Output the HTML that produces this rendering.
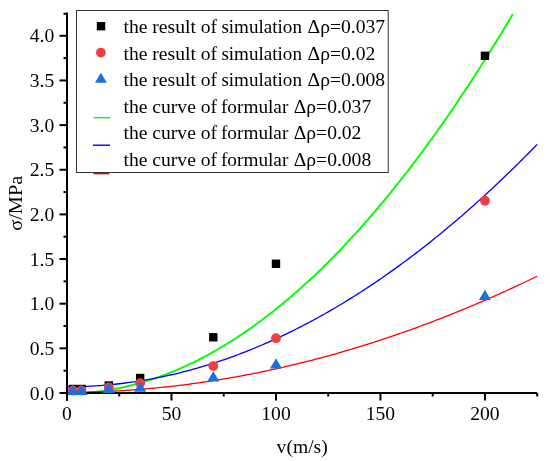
<!DOCTYPE html><html><head><meta charset="utf-8"><style>html,body{margin:0;padding:0;background:#fff;}svg{display:block;}</style></head><body>
<svg width="550" height="461" viewBox="0 0 550 461">
<rect width="550" height="461" fill="#fff"/>
<path d="M67.00,393.46 L69.09,393.45 L71.18,393.43 L73.27,393.38 L75.36,393.32 L77.45,393.24 L79.54,393.15 L81.63,393.03 L83.72,392.90 L85.81,392.75 L87.90,392.59 L89.99,392.41 L92.08,392.21 L94.17,391.99 L96.26,391.76 L98.35,391.51 L100.44,391.24 L102.53,390.96 L104.62,390.66 L106.71,390.34 L108.80,390.00 L110.89,389.65 L112.98,389.28 L115.07,388.90 L117.16,388.49 L119.25,388.07 L121.33,387.64 L123.42,387.19 L125.51,386.72 L127.60,386.23 L129.69,385.73 L131.78,385.21 L133.87,384.67 L135.96,384.11 L138.05,383.54 L140.14,382.96 L142.23,382.35 L144.32,381.73 L146.41,381.10 L148.50,380.44 L150.59,379.77 L152.68,379.08 L154.77,378.38 L156.86,377.66 L158.95,376.92 L161.04,376.16 L163.13,375.39 L165.22,374.61 L167.31,373.80 L169.40,372.98 L171.49,372.14 L173.58,371.29 L175.67,370.42 L177.76,369.53 L179.85,368.63 L181.94,367.70 L184.03,366.77 L186.12,365.81 L188.21,364.84 L190.30,363.85 L192.39,362.85 L194.48,361.83 L196.57,360.79 L198.66,359.74 L200.75,358.67 L202.84,357.58 L204.93,356.48 L207.02,355.36 L209.11,354.22 L211.20,353.07 L213.29,351.90 L215.38,350.71 L217.47,349.51 L219.56,348.29 L221.65,347.05 L223.73,345.80 L225.82,344.53 L227.91,343.24 L230.00,341.94 L232.09,340.62 L234.18,339.29 L236.27,337.93 L238.36,336.57 L240.45,335.18 L242.54,333.78 L244.63,332.36 L246.72,330.93 L248.81,329.48 L250.90,328.01 L252.99,326.52 L255.08,325.02 L257.17,323.51 L259.26,321.97 L261.35,320.42 L263.44,318.86 L265.53,317.27 L267.62,315.67 L269.71,314.06 L271.80,312.43 L273.89,310.78 L275.98,309.11 L278.07,307.43 L280.16,305.73 L282.25,304.02 L284.34,302.28 L286.43,300.54 L288.52,298.77 L290.61,296.99 L292.70,295.19 L294.79,293.38 L296.88,291.55 L298.97,289.70 L301.06,287.84 L303.15,285.96 L305.24,284.07 L307.33,282.15 L309.42,280.22 L311.51,278.28 L313.60,276.32 L315.69,274.34 L317.78,272.34 L319.87,270.33 L321.96,268.31 L324.05,266.26 L326.14,264.20 L328.22,262.13 L330.31,260.03 L332.40,257.92 L334.49,255.80 L336.58,253.66 L338.67,251.50 L340.76,249.32 L342.85,247.13 L344.94,244.92 L347.03,242.70 L349.12,240.46 L351.21,238.20 L353.30,235.93 L355.39,233.64 L357.48,231.33 L359.57,229.01 L361.66,226.67 L363.75,224.31 L365.84,221.94 L367.93,219.55 L370.02,217.15 L372.11,214.73 L374.20,212.29 L376.29,209.84 L378.38,207.37 L380.47,204.88 L382.56,202.38 L384.65,199.86 L386.74,197.32 L388.83,194.77 L390.92,192.20 L393.01,189.62 L395.10,187.02 L397.19,184.40 L399.28,181.77 L401.37,179.12 L403.46,176.45 L405.55,173.77 L407.64,171.07 L409.73,168.36 L411.82,165.62 L413.91,162.88 L416.00,160.11 L418.09,157.33 L420.18,154.53 L422.27,151.72 L424.36,148.89 L426.45,146.04 L428.54,143.18 L430.63,140.30 L432.71,137.41 L434.80,134.50 L436.89,131.57 L438.98,128.62 L441.07,125.66 L443.16,122.69 L445.25,119.69 L447.34,116.69 L449.43,113.66 L451.52,110.62 L453.61,107.56 L455.70,104.48 L457.79,101.39 L459.88,98.29 L461.97,95.16 L464.06,92.02 L466.15,88.87 L468.24,85.69 L470.33,82.51 L472.42,79.30 L474.51,76.08 L476.60,72.84 L478.69,69.59 L480.78,66.32 L482.87,63.03 L484.96,59.73 L487.05,56.41 L489.14,53.07 L491.23,49.72 L493.32,46.35 L495.41,42.97 L497.50,39.57 L499.59,36.15 L501.68,32.72 L503.77,29.27 L505.86,25.80 L507.95,22.32 L510.04,18.82 L512.13,15.31 L512.78,14.20" fill="none" stroke="#00ff00" stroke-width="1.90"/>
<path d="M67.00,386.78 L69.09,386.77 L71.18,386.76 L73.27,386.73 L75.36,386.70 L77.45,386.65 L79.54,386.60 L81.63,386.54 L83.72,386.47 L85.81,386.38 L87.90,386.29 L89.99,386.19 L92.08,386.08 L94.17,385.96 L96.26,385.83 L98.35,385.69 L100.44,385.54 L102.53,385.38 L104.62,385.21 L106.71,385.03 L108.80,384.85 L110.89,384.65 L112.98,384.44 L115.07,384.23 L117.16,384.00 L119.25,383.76 L121.33,383.52 L123.42,383.26 L125.51,383.00 L127.60,382.73 L129.69,382.44 L131.78,382.15 L133.87,381.85 L135.96,381.53 L138.05,381.21 L140.14,380.88 L142.23,380.54 L144.32,380.19 L146.41,379.83 L148.50,379.46 L150.59,379.08 L152.68,378.69 L154.77,378.29 L156.86,377.88 L158.95,377.46 L161.04,377.04 L163.13,376.60 L165.22,376.15 L167.31,375.70 L169.40,375.23 L171.49,374.75 L173.58,374.27 L175.67,373.77 L177.76,373.27 L179.85,372.76 L181.94,372.23 L184.03,371.70 L186.12,371.16 L188.21,370.61 L190.30,370.04 L192.39,369.47 L194.48,368.89 L196.57,368.30 L198.66,367.70 L200.75,367.09 L202.84,366.47 L204.93,365.85 L207.02,365.21 L209.11,364.56 L211.20,363.90 L213.29,363.24 L215.38,362.56 L217.47,361.87 L219.56,361.18 L221.65,360.47 L223.73,359.76 L225.82,359.03 L227.91,358.30 L230.00,357.56 L232.09,356.80 L234.18,356.04 L236.27,355.27 L238.36,354.49 L240.45,353.70 L242.54,352.90 L244.63,352.09 L246.72,351.27 L248.81,350.44 L250.90,349.60 L252.99,348.75 L255.08,347.89 L257.17,347.02 L259.26,346.15 L261.35,345.26 L263.44,344.36 L265.53,343.46 L267.62,342.54 L269.71,341.62 L271.80,340.68 L273.89,339.74 L275.98,338.78 L278.07,337.82 L280.16,336.85 L282.25,335.87 L284.34,334.87 L286.43,333.87 L288.52,332.86 L290.61,331.84 L292.70,330.81 L294.79,329.77 L296.88,328.72 L298.97,327.66 L301.06,326.60 L303.15,325.52 L305.24,324.43 L307.33,323.33 L309.42,322.23 L311.51,321.11 L313.60,319.99 L315.69,318.85 L317.78,317.71 L319.87,316.55 L321.96,315.39 L324.05,314.21 L326.14,313.03 L328.22,311.84 L330.31,310.64 L332.40,309.42 L334.49,308.20 L336.58,306.97 L338.67,305.73 L340.76,304.48 L342.85,303.22 L344.94,301.95 L347.03,300.68 L349.12,299.39 L351.21,298.09 L353.30,296.78 L355.39,295.47 L357.48,294.14 L359.57,292.80 L361.66,291.46 L363.75,290.10 L365.84,288.74 L367.93,287.37 L370.02,285.98 L372.11,284.59 L374.20,283.19 L376.29,281.78 L378.38,280.35 L380.47,278.92 L382.56,277.48 L384.65,276.03 L386.74,274.57 L388.83,273.10 L390.92,271.62 L393.01,270.14 L395.10,268.64 L397.19,267.13 L399.28,265.61 L401.37,264.09 L403.46,262.55 L405.55,261.00 L407.64,259.45 L409.73,257.88 L411.82,256.31 L413.91,254.73 L416.00,253.13 L418.09,251.53 L420.18,249.92 L422.27,248.29 L424.36,246.66 L426.45,245.02 L428.54,243.37 L430.63,241.71 L432.71,240.04 L434.80,238.36 L436.89,236.67 L438.98,234.97 L441.07,233.27 L443.16,231.55 L445.25,229.82 L447.34,228.09 L449.43,226.34 L451.52,224.58 L453.61,222.82 L455.70,221.04 L457.79,219.26 L459.88,217.47 L461.97,215.66 L464.06,213.85 L466.15,212.03 L468.24,210.20 L470.33,208.35 L472.42,206.50 L474.51,204.64 L476.60,202.77 L478.69,200.89 L480.78,199.00 L482.87,197.10 L484.96,195.20 L487.05,193.28 L489.14,191.35 L491.23,189.41 L493.32,187.47 L495.41,185.51 L497.50,183.55 L499.59,181.57 L501.68,179.59 L503.77,177.59 L505.86,175.59 L507.95,173.58 L510.04,171.55 L512.13,169.52 L514.22,167.48 L516.31,165.43 L518.40,163.37 L520.49,161.30 L522.58,159.22 L524.67,157.13 L526.76,155.03 L528.85,152.92 L530.94,150.80 L533.03,148.68 L535.12,146.54 L537.20,144.39" fill="none" stroke="#0000ff" stroke-width="1.30"/>
<path d="M67.00,392.31 L69.09,392.31 L71.18,392.30 L73.27,392.29 L75.36,392.27 L77.45,392.25 L79.54,392.22 L81.63,392.19 L83.72,392.15 L85.81,392.11 L87.90,392.06 L89.99,392.01 L92.08,391.95 L94.17,391.89 L96.26,391.83 L98.35,391.75 L100.44,391.68 L102.53,391.60 L104.62,391.51 L106.71,391.42 L108.80,391.33 L110.89,391.23 L112.98,391.12 L115.07,391.01 L117.16,390.90 L119.25,390.78 L121.33,390.66 L123.42,390.53 L125.51,390.40 L127.60,390.26 L129.69,390.12 L131.78,389.97 L133.87,389.82 L135.96,389.67 L138.05,389.51 L140.14,389.34 L142.23,389.17 L144.32,389.00 L146.41,388.82 L148.50,388.64 L150.59,388.45 L152.68,388.26 L154.77,388.06 L156.86,387.86 L158.95,387.65 L161.04,387.44 L163.13,387.22 L165.22,387.00 L167.31,386.78 L169.40,386.55 L171.49,386.31 L173.58,386.08 L175.67,385.83 L177.76,385.58 L179.85,385.33 L181.94,385.08 L184.03,384.81 L186.12,384.55 L188.21,384.28 L190.30,384.00 L192.39,383.72 L194.48,383.44 L196.57,383.15 L198.66,382.86 L200.75,382.56 L202.84,382.25 L204.93,381.95 L207.02,381.64 L209.11,381.32 L211.20,381.00 L213.29,380.67 L215.38,380.34 L217.47,380.01 L219.56,379.67 L221.65,379.33 L223.73,378.98 L225.82,378.63 L227.91,378.27 L230.00,377.91 L232.09,377.54 L234.18,377.17 L236.27,376.80 L238.36,376.42 L240.45,376.03 L242.54,375.64 L244.63,375.25 L246.72,374.85 L248.81,374.45 L250.90,374.04 L252.99,373.63 L255.08,373.22 L257.17,372.80 L259.26,372.37 L261.35,371.94 L263.44,371.51 L265.53,371.07 L267.62,370.63 L269.71,370.18 L271.80,369.73 L273.89,369.27 L275.98,368.81 L278.07,368.35 L280.16,367.88 L282.25,367.40 L284.34,366.93 L286.43,366.44 L288.52,365.95 L290.61,365.46 L292.70,364.97 L294.79,364.47 L296.88,363.96 L298.97,363.45 L301.06,362.94 L303.15,362.42 L305.24,361.89 L307.33,361.37 L309.42,360.83 L311.51,360.30 L313.60,359.76 L315.69,359.21 L317.78,358.66 L319.87,358.10 L321.96,357.55 L324.05,356.98 L326.14,356.41 L328.22,355.84 L330.31,355.26 L332.40,354.68 L334.49,354.10 L336.58,353.51 L338.67,352.91 L340.76,352.31 L342.85,351.71 L344.94,351.10 L347.03,350.49 L349.12,349.87 L351.21,349.25 L353.30,348.62 L355.39,347.99 L357.48,347.36 L359.57,346.72 L361.66,346.08 L363.75,345.43 L365.84,344.77 L367.93,344.12 L370.02,343.46 L372.11,342.79 L374.20,342.12 L376.29,341.45 L378.38,340.77 L380.47,340.08 L382.56,339.39 L384.65,338.70 L386.74,338.01 L388.83,337.30 L390.92,336.60 L393.01,335.89 L395.10,335.17 L397.19,334.45 L399.28,333.73 L401.37,333.00 L403.46,332.27 L405.55,331.53 L407.64,330.79 L409.73,330.05 L411.82,329.30 L413.91,328.54 L416.00,327.78 L418.09,327.02 L420.18,326.25 L422.27,325.48 L424.36,324.70 L426.45,323.92 L428.54,323.14 L430.63,322.35 L432.71,321.55 L434.80,320.75 L436.89,319.95 L438.98,319.14 L441.07,318.33 L443.16,317.52 L445.25,316.69 L447.34,315.87 L449.43,315.04 L451.52,314.21 L453.61,313.37 L455.70,312.52 L457.79,311.68 L459.88,310.83 L461.97,309.97 L464.06,309.11 L466.15,308.25 L468.24,307.38 L470.33,306.50 L472.42,305.62 L474.51,304.74 L476.60,303.86 L478.69,302.96 L480.78,302.07 L482.87,301.17 L484.96,300.26 L487.05,299.36 L489.14,298.44 L491.23,297.52 L493.32,296.60 L495.41,295.68 L497.50,294.75 L499.59,293.81 L501.68,292.87 L503.77,291.93 L505.86,290.98 L507.95,290.03 L510.04,289.07 L512.13,288.11 L514.22,287.14 L516.31,286.17 L518.40,285.20 L520.49,284.22 L522.58,283.24 L524.67,282.25 L526.76,281.26 L528.85,280.26 L530.94,279.26 L533.03,278.25 L535.12,277.24 L537.20,276.23" fill="none" stroke="#ff0000" stroke-width="1.30"/>
<g stroke="#000" stroke-width="2" fill="none">
<line x1="67" y1="12.8" x2="67" y2="400.5"/>
<line x1="66" y1="393" x2="537.2" y2="393"/>
<line x1="59.5" y1="393.00" x2="67" y2="393.00"/>
<line x1="63.5" y1="370.68" x2="67" y2="370.68"/>
<line x1="59.5" y1="348.35" x2="67" y2="348.35"/>
<line x1="63.5" y1="326.02" x2="67" y2="326.02"/>
<line x1="59.5" y1="303.70" x2="67" y2="303.70"/>
<line x1="63.5" y1="281.38" x2="67" y2="281.38"/>
<line x1="59.5" y1="259.05" x2="67" y2="259.05"/>
<line x1="63.5" y1="236.72" x2="67" y2="236.72"/>
<line x1="59.5" y1="214.40" x2="67" y2="214.40"/>
<line x1="63.5" y1="192.08" x2="67" y2="192.08"/>
<line x1="59.5" y1="169.75" x2="67" y2="169.75"/>
<line x1="63.5" y1="147.43" x2="67" y2="147.43"/>
<line x1="59.5" y1="125.10" x2="67" y2="125.10"/>
<line x1="63.5" y1="102.78" x2="67" y2="102.78"/>
<line x1="59.5" y1="80.45" x2="67" y2="80.45"/>
<line x1="63.5" y1="58.12" x2="67" y2="58.12"/>
<line x1="59.5" y1="35.80" x2="67" y2="35.80"/>
<line x1="63.5" y1="13.80" x2="67" y2="13.80"/>
<line x1="67.00" y1="393" x2="67.00" y2="400.5"/>
<line x1="119.25" y1="393" x2="119.25" y2="396.5"/>
<line x1="171.49" y1="393" x2="171.49" y2="400.5"/>
<line x1="223.73" y1="393" x2="223.73" y2="396.5"/>
<line x1="275.98" y1="393" x2="275.98" y2="400.5"/>
<line x1="328.22" y1="393" x2="328.22" y2="396.5"/>
<line x1="380.47" y1="393" x2="380.47" y2="400.5"/>
<line x1="432.71" y1="393" x2="432.71" y2="396.5"/>
<line x1="484.96" y1="393" x2="484.96" y2="400.5"/>
<line x1="537.20" y1="393" x2="537.20" y2="396.5"/>
</g>
<rect x="68.76" y="384.78" width="8.4" height="8.4" fill="#000"/>
<rect x="77.32" y="384.78" width="8.4" height="8.4" fill="#000"/>
<rect x="104.60" y="381.30" width="8.4" height="8.4" fill="#000"/>
<rect x="135.94" y="373.80" width="8.4" height="8.4" fill="#000"/>
<rect x="209.09" y="333.08" width="8.4" height="8.4" fill="#000"/>
<rect x="271.78" y="259.58" width="8.4" height="8.4" fill="#000"/>
<rect x="480.76" y="51.60" width="8.4" height="8.4" fill="#000"/>
<circle cx="72.96" cy="390.50" r="4.9" fill="#ee4040"/>
<circle cx="81.52" cy="390.50" r="4.9" fill="#ee4040"/>
<circle cx="108.80" cy="387.30" r="4.9" fill="#ee4040"/>
<circle cx="140.14" cy="383.18" r="4.9" fill="#ee4040"/>
<circle cx="213.29" cy="366.03" r="4.9" fill="#ee4040"/>
<circle cx="275.98" cy="338.17" r="4.9" fill="#ee4040"/>
<circle cx="484.96" cy="200.74" r="4.9" fill="#ee4040"/>
<path d="M72.96,384.70 L78.96,394.90 L66.96,394.90 Z" fill="#1c6fe0"/>
<path d="M81.52,384.70 L87.52,394.90 L75.52,394.90 Z" fill="#1c6fe0"/>
<path d="M108.80,382.85 L114.80,393.05 L102.80,393.05 Z" fill="#1c6fe0"/>
<path d="M140.14,381.47 L146.14,391.67 L134.14,391.67 Z" fill="#1c6fe0"/>
<path d="M213.29,371.29 L219.29,381.49 L207.29,381.49 Z" fill="#1c6fe0"/>
<path d="M275.98,358.34 L281.98,368.54 L269.98,368.54 Z" fill="#1c6fe0"/>
<path d="M484.96,289.80 L490.96,300.00 L478.96,300.00 Z" fill="#1c6fe0"/>
<line x1="67" y1="12.8" x2="67" y2="400.5" stroke="#000" stroke-width="2"/>
<g font-family="Liberation Serif, Times New Roman, serif" font-size="19.6" fill="#000">
<text x="54.2" y="399.60" text-anchor="end">0.0</text>
<text x="54.2" y="354.95" text-anchor="end">0.5</text>
<text x="54.2" y="310.30" text-anchor="end">1.0</text>
<text x="54.2" y="265.65" text-anchor="end">1.5</text>
<text x="54.2" y="221.00" text-anchor="end">2.0</text>
<text x="54.2" y="176.35" text-anchor="end">2.5</text>
<text x="54.2" y="131.70" text-anchor="end">3.0</text>
<text x="54.2" y="87.05" text-anchor="end">3.5</text>
<text x="54.2" y="42.40" text-anchor="end">4.0</text>
<text x="67.00" y="420.3" text-anchor="middle">0</text>
<text x="171.49" y="420.3" text-anchor="middle">50</text>
<text x="275.98" y="420.3" text-anchor="middle">100</text>
<text x="380.47" y="420.3" text-anchor="middle">150</text>
<text x="484.96" y="420.3" text-anchor="middle">200</text>
<text x="302.2" y="452.8" text-anchor="middle">v(m/s)</text>
<text transform="translate(22,203.3) rotate(-90) scale(1.038,1)" text-anchor="middle">σ/MPa</text>
</g>
<rect x="76.5" y="10.5" width="311.7" height="162" fill="#fff" stroke="#333" stroke-width="1"/>
<g font-family="Liberation Serif, Times New Roman, serif" font-size="19.6" fill="#000">
<text x="123.5" y="33.20">the result of</text>
<text x="0" y="0" transform="translate(221.40,33.20) scale(0.974,1)">simulation</text>
<text x="0" y="0" transform="translate(307.60,33.20) scale(1.000,1)">Δρ=0.037</text>
<text x="123.5" y="59.76">the result of</text>
<text x="0" y="0" transform="translate(221.40,59.76) scale(0.974,1)">simulation</text>
<text x="0" y="0" transform="translate(307.60,59.76) scale(1.000,1)">Δρ=0.02</text>
<text x="123.5" y="86.32">the result of</text>
<text x="0" y="0" transform="translate(221.40,86.32) scale(0.974,1)">simulation</text>
<text x="0" y="0" transform="translate(307.60,86.32) scale(1.000,1)">Δρ=0.008</text>
<text x="123.5" y="112.88">the curve of</text>
<text x="0" y="0" transform="translate(220.90,112.88) scale(0.984,1)">formular</text>
<text x="0" y="0" transform="translate(293.70,112.88) scale(1.000,1)">Δρ=0.037</text>
<text x="123.5" y="139.44">the curve of</text>
<text x="0" y="0" transform="translate(220.90,139.44) scale(0.984,1)">formular</text>
<text x="0" y="0" transform="translate(293.70,139.44) scale(1.000,1)">Δρ=0.02</text>
<text x="123.5" y="166.00">the curve of</text>
<text x="0" y="0" transform="translate(220.90,166.00) scale(0.984,1)">formular</text>
<text x="0" y="0" transform="translate(293.70,166.00) scale(1.000,1)">Δρ=0.008</text>
</g>
<rect x="96.8" y="22" width="8.4" height="8.4" fill="#000"/>
<circle cx="100.9" cy="52.6" r="4.9" fill="#ee4040"/>
<path d="M100.90,72.75 L106.85,82.65 L94.95,82.65 Z" fill="#1c6fe0"/>
<line x1="93.5" y1="117.7" x2="110" y2="117.7" stroke="#00ff00" stroke-width="1.4"/>
<line x1="93" y1="145.2" x2="110" y2="145.2" stroke="#0000ff" stroke-width="1.4"/>
<line x1="93.5" y1="173.7" x2="109.5" y2="173.7" stroke="#ff0000" stroke-width="1.4"/>
</svg></body></html>
